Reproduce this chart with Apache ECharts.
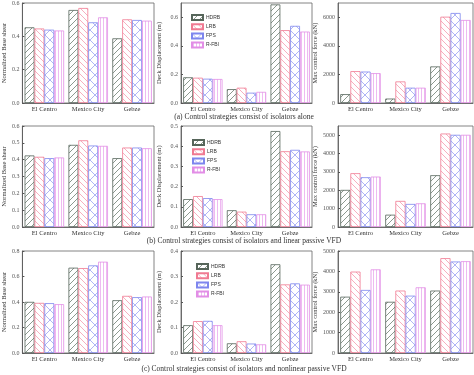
<!DOCTYPE html>
<html>
<head>
<meta charset="utf-8">
<script src="https://cdn.jsdelivr.net/npm/echarts@6/dist/echarts.min.js"></script>
<style>
  html, body { margin: 0; padding: 0; background: #fff; }
  #main { width: 474px; height: 375px; }
</style>
</head>
<body>
<div id="main"></div>
<script>
// data, one row per isolator (HDRB, LRB, FPS, R-FBI), one value per record
const cities = ['El Centro', 'Mexico City', 'Gebze']
const isolators = ['HDRB', 'LRB', 'FPS', 'R-FBI']

// (a) isolators alone
const shearA = [[0.454, 0.558, 0.388], [0.447, 0.570, 0.502], [0.440, 0.484, 0.498], [0.435, 0.514, 0.494]]
const dispA = [[0.180, 0.097, 0.690], [0.177, 0.107, 0.510], [0.170, 0.072, 0.540], [0.168, 0.078, 0.500]]
const forceA = [[620, 310, 2560], [2230, 1510, 6040], [2200, 1070, 6300], [2090, 1070, 5810]]

// (b) isolators + linear passive VFD
const shearB = [[0.425, 0.488, 0.409], [0.417, 0.515, 0.472], [0.409, 0.484, 0.472], [0.413, 0.482, 0.468]]
const dispB = [[0.138, 0.083, 0.475], [0.153, 0.076, 0.375], [0.143, 0.063, 0.382], [0.138, 0.063, 0.374]]
const forceB = [[2020, 670, 2820], [2930, 1420, 5090], [2710, 1255, 5020], [2745, 1290, 5020]]

// (c) isolators + nonlinear passive VFD
const shearC = [[0.401, 0.669, 0.414], [0.393, 0.666, 0.448], [0.391, 0.687, 0.438], [0.383, 0.716, 0.443]]
const dispC = [[0.109, 0.038, 0.348], [0.125, 0.046, 0.269], [0.126, 0.037, 0.273], [0.109, 0.034, 0.268]]
const forceC = [[2760, 2510, 3060], [3990, 3060, 4650], [3090, 2810, 4485], [4100, 3220, 4500]]

const captions = [
  '(a) Control strategies consist of isolators alone',
  '(b) Control strategies consist of isolators and linear passive VFD',
  '(c) Control strategies consist of isolators and nonlinear passive VFD'
]

// hatch fills
function hatch(color, kind) {
  const size = kind === 'cross' ? 10 : kind === 'vert' ? 3 : 6
  const c = document.createElement('canvas')
  c.width = c.height = size
  const ctx = c.getContext('2d')
  ctx.fillStyle = '#fff'
  ctx.fillRect(0, 0, size, size)
  ctx.strokeStyle = color
  ctx.lineWidth = 0.8
  ctx.beginPath()
  if (kind === 'fwd' || kind === 'cross') {
    ctx.moveTo(-1, size + 1); ctx.lineTo(size + 1, -1)
    ctx.moveTo(-1, 1); ctx.lineTo(1, -1)
    ctx.moveTo(size - 1, size + 1); ctx.lineTo(size + 1, size - 1)
  }
  if (kind === 'back' || kind === 'cross') {
    ctx.moveTo(-1, -1); ctx.lineTo(size + 1, size + 1)
    ctx.moveTo(size - 1, -1); ctx.lineTo(size + 1, 1)
    ctx.moveTo(-1, size - 1); ctx.lineTo(1, size + 1)
  }
  if (kind === 'vert') {
    ctx.moveTo(1.5, 0); ctx.lineTo(1.5, size)
  }
  ctx.stroke()
  return { image: c, repeat: 'repeat' }
}

const looks = [
  { edge: '#56655a', fill: hatch('#6f7f72', 'fwd') },
  { edge: '#f07a92', fill: hatch('#f59aae', 'back') },
  { edge: '#7e86ee', fill: hatch('#9aa2f2', 'cross') },
  { edge: '#e28ee6', fill: hatch('#eaa8ee', 'vert') }
]

const panels = [
  { data: shearA, name: 'Normalized Base shear', max: 0.6, step: 0.2, dec: 1, hideMax: false },
  { data: dispA, name: 'Deck Displacement (m)', max: 0.7, step: 0.2, dec: 1, hideMax: true },
  { data: forceA, name: 'Max control force (kN)', max: 7000, step: 2000, dec: 0, hideMax: true },
  { data: shearB, name: 'Normalized Base shear', max: 0.6, step: 0.1, dec: 1, hideMax: false },
  { data: dispB, name: 'Deck Displacement (m)', max: 0.5, step: 0.1, dec: 1, hideMax: false },
  { data: forceB, name: 'Max control force (kN)', max: 5500, step: 1000, dec: 0, hideMax: true },
  { data: shearC, name: 'Normalized Base shear', max: 0.8, step: 0.2, dec: 1, hideMax: false },
  { data: dispC, name: 'Deck Displacement (m)', max: 0.4, step: 0.1, dec: 1, hideMax: false },
  { data: forceC, name: 'Max control force (kN)', max: 5000, step: 1000, dec: 0, hideMax: false }
]

const rowTop = [3, 126, 251]
const rowH = [100, 101, 102]
const colLeft = [21, 181, 338]
const colW = [133, 131, 135]
const nameGaps = [14, 18, 19]
const serif = 'Liberation Serif'

const grid = [], xAxis = [], yAxis = [], series = [], legend = []
panels.forEach((p, i) => {
  const r = Math.floor(i / 3), c = i % 3
  grid.push({
    left: colLeft[c], top: rowTop[r], width: colW[c], height: rowH[r],
    show: true, borderColor: '#666', borderWidth: 0.8
  })
  xAxis.push({
    type: 'category', gridIndex: i, data: cities,
    axisLine: { lineStyle: { color: '#555', width: 0.8 } },
    axisTick: { inside: true, length: 2, lineStyle: { color: '#555' } },
    axisLabel: { interval: 0, fontFamily: serif, fontSize: 6.5, color: '#333', margin: 3 }
  })
  yAxis.push({
    type: 'value', gridIndex: i, min: 0, max: p.max, interval: p.step,
    name: p.name, nameLocation: 'middle', nameGap: nameGaps[c],
    nameTextStyle: { fontFamily: serif, fontSize: 6.5, color: '#333' },
    splitLine: { show: false },
    axisLine: { show: true, lineStyle: { color: '#555', width: 0.8 } },
    axisTick: { show: true, inside: true, length: 2, lineStyle: { color: '#555' } },
    axisLabel: {
      fontFamily: serif, fontSize: 6, color: '#555', margin: 3,
      showMaxLabel: !p.hideMax,
      formatter: v => v.toFixed(p.dec)
    }
  })
  p.data.forEach((vals, k) => {
    series.push({
      type: 'bar', name: isolators[k], xAxisIndex: i, yAxisIndex: i,
      data: vals, barGap: '0%', barCategoryGap: '10%',
      itemStyle: { color: looks[k].fill, borderColor: looks[k].edge, borderWidth: 0.8 }
    })
  })
})

// legends sit inside the deck displacement panels
const legendSpots = [[186, 9], [187, 134], [191, 258]]
legendSpots.forEach(s => {
  legend.push({
    data: isolators, orient: 'vertical', left: s[0], top: s[1],
    itemWidth: 11, itemHeight: 5, itemGap: 2.2, icon: 'rect',
    textStyle: { fontSize: 5, color: '#333', padding: [0, 0, 0, -2] }
  })
})

const captionY = [117, 241, 369]
const graphic = captions.map((t, r) => ({
  type: 'text', x: 244, y: captionY[r],
  style: {
    text: t, fontFamily: serif, fontSize: 7.5, fill: '#333',
    textAlign: 'center', textVerticalAlign: 'middle'
  }
}))

const chart = echarts.init(document.getElementById('main'))
chart.setOption({
  animation: false,
  grid, xAxis, yAxis, series, legend, graphic
})
</script>
</body>
</html>
